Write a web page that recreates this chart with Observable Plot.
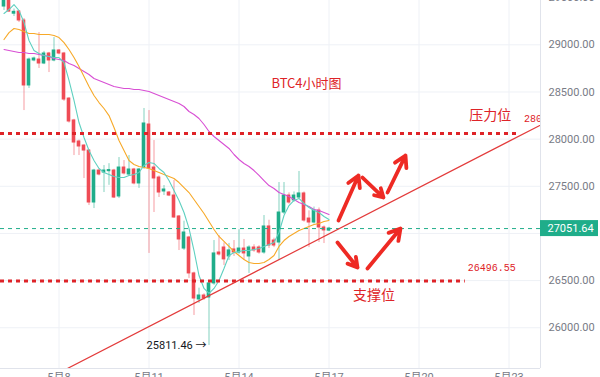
<!DOCTYPE html>
<html><head><meta charset="utf-8">
<script src="https://cdn.jsdelivr.net/npm/d3@7"></script>
<script src="https://cdn.jsdelivr.net/npm/@observablehq/plot@0.6"></script>
<style>body{margin:0;background:#fff;overflow:hidden}#chart svg{display:block}</style>
</head><body><div id="chart"></div>
<script>
// 4-hour candle open times (May 2023, UTC)
const times = [
 "06T04","06T08","06T12","06T16","06T20",
 "07T00","07T04","07T08","07T12","07T16","07T20",
 "08T00","08T04","08T08","08T12","08T16","08T20",
 "09T00","09T04","09T08","09T12","09T16","09T20",
 "10T00","10T04","10T08","10T12","10T16","10T20",
 "11T00","11T04","11T08","11T12","11T16","11T20",
 "12T00","12T04","12T08","12T12","12T16","12T20",
 "13T00","13T04","13T08","13T12","13T16","13T20",
 "14T00","14T04","14T08","14T12","14T16","14T20",
 "15T00","15T04","15T08","15T12","15T16","15T20",
 "16T00","16T04","16T08","16T12","16T16","16T20",
 "17T00"];
const open = [29406,29501,29330,29353,29258, 28569,28834,28844,28802,28908,28834,
 28940,28908,28430,28198,27975,27932, 27879,27328,27667,27646,27660,27667,
 27392,27699,27625,27678,27530,27699, 28155,27699,27593,27445,27434,27402,
 27180,26840,26957,26576,26300,26342, 26321,26470,26798,26851,26756,26830,
 26798,26840,26756,26851,26851,26798, 27074,26925,26904,27222,27402,27350,
 27381,27424,27158,27116,27243,27063, 27030];
const high = [29576,29554,29380,29364,29279, 28860,28870,29130,28930,28920,29077,
 28950,28920,28440,28210,27990,27940, 27890,27680,27680,27720,27740,27680,
 27805,27773,27826,27690,27690,28325, 28303,27985,27610,27508,27445,27561,
 27190,27130,26970,26590,26420,26360, 26500,26925,26978,26900,26894,26925,
 27040,26936,26870,26880,26870,27190, 27140,26950,27540,27540,27430,27440,
 27657,27440,27240,27280,27270,27080, 27065];
const low = [29364,29342,29300,29236,28303, 28537,28820,28749,28790,28706,28820,
 28895,28400,28170,27826,27826,27582, 27296,27264,27610,27434,27510,27370,
 27370,27620,27610,27515,27477,27680, 26788,27222,27381,27402,27390,27160,
 26819,26820,26523,26130,26258,26290, 25811.46,26450,26760,26660,26713,26756,
 26780,26713,26576,26800,26780,26780, 26840,26850,26713,27200,27310,27330,
 27370,27120,26850,27100,26904,26893, 27020];
const close = [29523,29353,29350,29258,28569, 28844,28855,28802,28908,28834,28940,
 28908,28420,28187,27964,27922,27879, 27328,27667,27625,27667,27672,27381,
 27699,27636,27678,27530,27678,28166, 27689,27583,27434,27466,27402,27169,
 26936,27010,26576,26310,26342,26310, 26470,26788,26777,26725,26820,26798,
 26840,26788,26851,26820,26798,27074, 26872,26872,27222,27402,27328,27402,
 27424,27137,27116,27243,27063,27032, 27051.64];
const maFast = [29332,29374,29427,29364,29236, 29046,28940,28908,28887,28876,28865,
 28865,28812,28622,28410,28176,28017, 27879,27773,27689,27646,27625,27604,
 27593,27593,27615,27625,27646,27720, 27752,27742,27689,27646,27561,27455,
 27350,27222,27053,26819,26554,26417, 26364,26417,26501,26629,26766,26798,
 26809,26819,26819,26830,26840,26862, 26883,26904,27010,27190,27296,27350,
 27371,27318,27275,27243,27222,27180, 27148];
const maMid = [29056,29130,29173,29162,29141, 29120,29120,29109,29109,29109,29099,
 29077,29024,28950,28865,28770,28664, 28558,28463,28388,28325,28250,28123,
 27985,27879,27773,27731,27710,27699, 27689,27667,27646,27625,27604,27583,
 27540,27487,27434,27360,27286,27212, 27127,27042,26968,26915,26862,26809,
 26766,26724,26692,26682,26682,26692, 26724,26766,26862,26925,26968,27000,
 27031,27053,27074,27095,27106,27127, 27137];
const maSlow = [28950,28940,28929,28918,28918, 28908,28908,28897,28887,28876,28855,
 28844,28834,28802,28781,28749,28717, 28685,28643,28622,28600,28579,28558,
 28547,28537,28537,28526,28526,28516, 28505,28484,28463,28441,28420,28399,
 28378,28346,28293,28261,28219,28155, 28081,28028,27985,27943,27901,27837,
 27784,27742,27710,27667,27615,27561, 27508,27477,27434,27413,27392,27360,
 27328,27307,27286,27254,27243,27222, 27201];

const lastPrice = 27051.64;
const resistance = 28060.00;
const support = 26496.55;
const lowMark = 25811.46;
const gridPrices = [26000,26500,27000,27500,28000,28500,29000];
const axisPrices = [26000,26500,27500,28000,28500,29000,29500];
const dateTicks = ["2023-05-08","2023-05-11","2023-05-14","2023-05-17","2023-05-20","2023-05-23"];
const xDomain = ["2023-05-06T01:12Z","2023-05-24T01:12Z"];
const yDomain = [25568, 29470];
const resEnd = "2023-05-23T09:00Z";
const supEnd = "2023-05-21T13:00Z";
const trendTimes = ["2023-05-08T00:00Z","2023-05-24T12:00Z"];
const trendPrices = [25522, 28223];
const arrowFromT = ["2023-05-17T07:36Z","2023-05-18T02:48Z","2023-05-18T22:48Z","2023-05-17T06:48Z","2023-05-18T06:48Z"];
const arrowFromP = [27137,27593,27434,26904,26629];
const arrowToT = ["2023-05-17T23:36Z","2023-05-18T19:36Z","2023-05-19T13:12Z","2023-05-17T22:48Z","2023-05-19T09:12Z"];
const arrowToP = [27614,27381,27826,26639,27053];
const noteTexts = ["BTC4小时图","压力位","支撑位"];
const noteTimes = ["2023-05-16T06:00Z","2023-05-22T09:00Z","2023-05-18T12:00Z"];
const notePrices = [28590,28250,26342];
const levelTexts = ["28060.00","26496.55"];
const levelTimes = ["2023-05-23T12:00Z","2023-05-21T15:00Z"];
const levelPrices = [28219,26639];
const lowLabelTime = "2023-05-12T22:00Z";

const UP = "#1fad8a", DOWN = "#ef4b55", RED = "#de2328";
const D = s => new Date(s);
const T = times.map(s => new Date(`2023-05-${s}:00Z`));
const n = Math.min(T.length, open.length, high.length, low.length, close.length);
const idx = d3.range(n);
const col = i => close[i] >= open[i] ? UP : DOWN;
const x0 = D(xDomain[0]), x1 = D(xDomain[1]);
const maIdx = k => d3.range(Math.min(n, k.length));

const chart = Plot.plot({
  width: 600, height: 377,
  marginTop: 0, marginRight: 60, marginBottom: 9, marginLeft: 0,
  style: {background: "#fff", color: "#787b86", fontSize: "11px", fontFamily: "Roboto, 'Noto Sans CJK SC', sans-serif"},
  x: {type: "utc", domain: [x0, x1], ticks: dateTicks.map(D), tickFormat: d => `${d.getUTCMonth()+1}月${d.getUTCDate()}`, tickSize: 0, tickPadding: 5, label: null},
  y: {domain: yDomain, axis: "right", ticks: axisPrices, tickFormat: d => d.toFixed(2), tickSize: 0, tickPadding: 8, label: null},
  marks: [
    Plot.ruleY(gridPrices, {stroke: "#eef1f6"}),
    Plot.ruleX(dateTicks.map(D), {stroke: "#eef1f6"}),
    Plot.ruleX([x1], {stroke: "#e0e3eb"}),
    Plot.ruleY([yDomain[0]], {stroke: "#e0e3eb"}),
    Plot.ruleX(idx, {x: i => T[i], y1: i => low[i], y2: i => high[i], stroke: col, strokeOpacity: 0.55, clip: true}),
    Plot.rect(idx, {x1: i => T[i], x2: i => T[i], y1: i => open[i], y2: i => close[i], fill: col,
      insetLeft: -1.8, insetRight: -1.8, insetTop: -0.5, insetBottom: -0.5, clip: true}),
    Plot.line(maIdx(maSlow), {x: i => T[i], y: i => maSlow[i], stroke: "#d84fd4", strokeWidth: 1.1, clip: true}),
    Plot.line(maIdx(maMid), {x: i => T[i], y: i => maMid[i], stroke: "#f7a928", strokeWidth: 1.1, clip: true}),
    Plot.line(maIdx(maFast), {x: i => T[i], y: i => maFast[i], stroke: "#5fd0c0", strokeWidth: 1.1, clip: true}),
    Plot.ruleY([lastPrice], {stroke: UP, strokeDasharray: "4,4", strokeWidth: 1}),
    Plot.ruleY([resistance], {x1: x0, x2: D(resEnd), stroke: RED, strokeWidth: 3, strokeDasharray: "4,4"}),
    Plot.ruleY([support], {x1: x0, x2: D(supEnd), stroke: RED, strokeWidth: 3, strokeDasharray: "4,4"}),
    Plot.line([0, 1], {x: i => D(trendTimes[i]), y: i => trendPrices[i], stroke: "#e33b3b", strokeWidth: 1.2, clip: true}),
    Plot.arrow(d3.range(arrowFromT.length), {x1: i => D(arrowFromT[i]), y1: i => arrowFromP[i], x2: i => D(arrowToT[i]), y2: i => arrowToP[i],
      stroke: "#ee2a24", strokeWidth: 3.8, headLength: 5, headAngle: 60}),
    Plot.text(d3.range(noteTexts.length), {x: i => D(noteTimes[i]), y: i => notePrices[i], text: i => noteTexts[i],
      fill: RED, fontSize: i => i === 0 ? 13 : 14, fontFamily: "'Noto Sans CJK SC', sans-serif"}),
    Plot.text(d3.range(levelTexts.length), {x: i => D(levelTimes[i]), y: i => levelPrices[i], text: i => levelTexts[i],
      fill: RED, fontSize: 10, fontFamily: "'Liberation Mono', monospace", textAnchor: "start", clip: true}),
    Plot.text([lowMark], {x: D(lowLabelTime), y: d => d, text: d => `${d.toFixed(2)} →`, fill: "#131722", fontSize: 11, textAnchor: "end"}),
    Plot.rect([lastPrice], {x1: x1, x2: x1, y1: d => d, y2: d => d, insetRight: -58, insetTop: -8, insetBottom: -8, fill: UP}),
    Plot.text([lastPrice], {x: x1, y: d => d, text: d => d.toFixed(2), dx: 7, textAnchor: "start", fill: "#fff", fontSize: 11})
  ]
});
document.getElementById("chart").appendChild(chart);
</script></body></html>
